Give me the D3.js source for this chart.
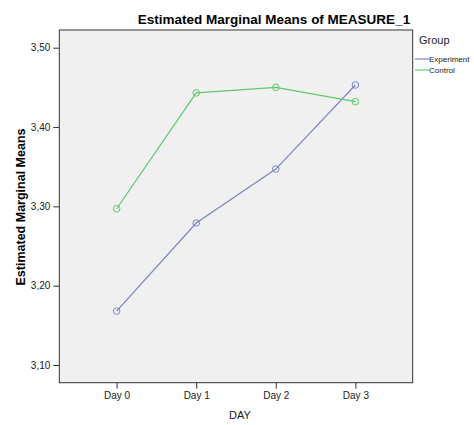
<!DOCTYPE html>
<html><head><meta charset="utf-8">
<script src="https://cdn.jsdelivr.net/npm/d3@7"></script>
<style>body{margin:0;background:#fff}</style>
</head><body><div id="chart"></div>
<script>
const days = ['Day 0', 'Day 1', 'Day 2', 'Day 3'];
const experiment = [3.168, 3.279, 3.347, 3.453];
const control = [3.297, 3.443, 3.450, 3.432];
const yTicks = [3.10, 3.20, 3.30, 3.40, 3.50];

const svg = d3.select('#chart').append('svg').attr('width', 474).attr('height', 425)
    .style('font-family', 'Arial, "Liberation Sans", sans-serif');
const L = 59.3, R = 412.7, T = 30, B = 382.7;

const x = d3.scaleLinear().domain([-0.72, 3.72]).range([L, R]);
const y = d3.scaleLinear().domain([3.0777, 3.5223]).range([B, T]);

svg.append('rect').attr('x', L).attr('y', T).attr('width', R - L).attr('height', B - T)
    .attr('fill', '#f0f0f0').attr('stroke', '#333').attr('stroke-width', 1);

let ya = svg.append('g').attr('transform', `translate(${L},0)`)
    .call(d3.axisLeft(y).tickValues(yTicks).tickSize(6).tickFormat(d => d3.format('.2f')(d).replace('.', ',')));
let xa = svg.append('g').attr('transform', `translate(0,${B})`)
    .call(d3.axisBottom(x).tickValues([0, 1, 2, 3]).tickSize(6).tickFormat(i => days[i]));
[ya, xa].forEach(a => {
    a.select('.domain').remove();
    a.selectAll('line').attr('stroke', '#333');
    a.selectAll('text').attr('fill', '#222').style('font-size', '10px');
});

function series(vals, color) {
    const line = d3.line().x((d, i) => x(i)).y(d => y(d));
    svg.append('path').datum(vals).attr('d', line).attr('fill', 'none')
        .attr('stroke', color).attr('stroke-width', 1.2);
    svg.selectAll(null).data(vals).enter().append('circle')
        .attr('cx', (d, i) => x(i)).attr('cy', d => y(d)).attr('r', 3.3)
        .attr('fill', 'none').attr('stroke', color).attr('stroke-width', 1);
}
series(experiment, '#7b84c4');
series(control, '#5ec86a');

svg.append('text').attr('x', 274).attr('y', 24).attr('text-anchor', 'middle')
    .style('font-size', '13.5px').style('font-weight', 'bold').text('Estimated Marginal Means of MEASURE_1');
svg.append('text').attr('transform', 'translate(25,207) rotate(-90)').attr('text-anchor', 'middle')
    .style('font-size', '12.5px').style('font-weight', 'bold').text('Estimated Marginal Means');
svg.append('text').attr('x', 240).attr('y', 419).attr('text-anchor', 'middle')
    .style('font-size', '11px').attr('fill', '#222').text('DAY');

const lg = svg.append('g');
lg.append('text').attr('x', 419).attr('y', 44).style('font-size', '11px').attr('fill', '#222').text('Group');
[['Experiment', '#7b84c4'], ['Control', '#5ec86a']].forEach(([n, c], i) => {
    const yy = 59 + i * 11;
    lg.append('line').attr('x1', 415).attr('x2', 429).attr('y1', yy).attr('y2', yy).attr('stroke', c).attr('stroke-width', 1.2);
    lg.append('text').attr('x', 429).attr('y', yy + 3).style('font-size', '8px').attr('fill', '#222').text(n);
});
</script></body></html>
